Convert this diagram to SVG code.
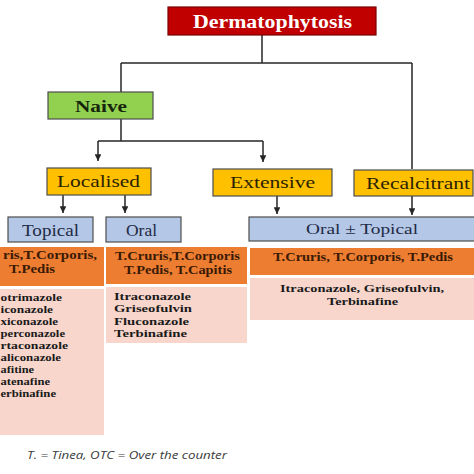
<svg xmlns="http://www.w3.org/2000/svg" width="474" height="474" viewBox="0 0 474 474">
<style>
.t{font-family:"Liberation Serif","Times New Roman",serif}
.b{font-weight:bold}
.c{text-anchor:middle}
.box{stroke:#4d4d4d;stroke-width:1.2}
.con{stroke:#262626;stroke-width:1.5;fill:none}
.list{font-family:"Liberation Serif","Times New Roman",serif;font-weight:bold;font-size:10.6px;fill:#1a1a1a}
.otext{font-family:"Liberation Serif","Times New Roman",serif;font-weight:bold;font-size:11.5px;fill:#3a1a05;text-anchor:middle}
</style>
<defs>
<marker id="ah" viewBox="0 0 10 10" refX="10" refY="5" markerWidth="4.5" markerHeight="4.5" orient="auto" markerUnits="strokeWidth">
<path d="M0,0 L10,5 L0,10 z" fill="#262626"/>
</marker>
</defs>
<rect width="474" height="474" fill="#ffffff"/>

<g id="connectors">
<path class="con" d="M262,35 V63"/>
<path class="con" d="M121,63 H412"/>
<path class="con" d="M121,63 V92"/>
<path class="con" d="M412,63 V169"/>
<path class="con" d="M121,119 V141"/>
<path class="con" d="M98,141 H263"/>
<path class="con" d="M98,141 V161" marker-end="url(#ah)"/>
<path class="con" d="M263,141 V162" marker-end="url(#ah)"/>
<path class="con" d="M63,195 V213" marker-end="url(#ah)"/>
<path class="con" d="M125,195 V213" marker-end="url(#ah)"/>
<path class="con" d="M277,196 V214" marker-end="url(#ah)"/>
<path class="con" d="M412,196 V215" marker-end="url(#ah)"/>
</g>

<g id="dermatophytosis">
<rect x="168" y="7" width="208" height="28" fill="#C00000" stroke="#7a0000" stroke-width="1.2"/>
<text class="t b c" x="272.5" y="27.5" font-size="18" fill="#ffffff" textLength="159" lengthAdjust="spacingAndGlyphs">Dermatophytosis</text>
</g>

<g id="naive">
<rect class="box" x="48" y="92" width="105" height="27" fill="#92D050"/>
<text class="t b c" x="101" y="111.5" font-size="16.5" fill="#15260a" textLength="52" lengthAdjust="spacingAndGlyphs">Naive</text>
</g>

<g id="localised">
<rect class="box" x="47" y="168" width="104" height="27" fill="#FFC000"/>
<text class="t c" x="98.5" y="187" font-size="16" fill="#2b2200" textLength="83" lengthAdjust="spacingAndGlyphs">Localised</text>
</g>

<g id="extensive">
<rect class="box" x="213" y="169" width="119" height="27" fill="#FFC000"/>
<text class="t c" x="272.5" y="188" font-size="16" fill="#2b2200" textLength="85" lengthAdjust="spacingAndGlyphs">Extensive</text>
</g>

<g id="recalcitrant">
<rect class="box" x="354" y="170" width="119" height="26" fill="#FFC000"/>
<text class="t c" x="418" y="188.5" font-size="16" fill="#2b2200" textLength="104" lengthAdjust="spacingAndGlyphs">Recalcitrant</text>
</g>

<g id="topical">
<rect class="box" x="8" y="217" width="85" height="25" fill="#B4C7E7"/>
<text class="t c" x="50.5" y="236" font-size="16" fill="#1f2a44" textLength="57" lengthAdjust="spacingAndGlyphs">Topical</text>
</g>

<g id="oral">
<rect class="box" x="106" y="217" width="75" height="25" fill="#B4C7E7"/>
<text class="t c" x="141.5" y="236" font-size="16" fill="#1f2a44" textLength="31" lengthAdjust="spacingAndGlyphs">Oral</text>
</g>

<g id="oral-topical">
<rect class="box" x="249" y="217" width="226" height="24" fill="#B4C7E7"/>
<text class="t c" x="362" y="234" font-size="14.5" fill="#1f2a44" textLength="112" lengthAdjust="spacingAndGlyphs">Oral ± Topical</text>
</g>

<g id="topical-sites">
<rect x="-2" y="247" width="106" height="39" fill="#ED7D31"/>
<text class="otext" x="50" y="259" textLength="94" lengthAdjust="spacingAndGlyphs">ris,T.Corporis,</text>
<text class="otext" x="32" y="273" textLength="46" lengthAdjust="spacingAndGlyphs">T.Pedis</text>
</g>

<g id="oral-sites">
<rect x="106" y="247" width="141" height="37" fill="#ED7D31"/>
<text class="otext" x="177.5" y="260" textLength="125" lengthAdjust="spacingAndGlyphs">T.Cruris,T.Corporis</text>
<text class="otext" x="178" y="274" textLength="108" lengthAdjust="spacingAndGlyphs">T.Pedis, T.Capitis</text>
</g>

<g id="extensive-sites">
<rect x="250" y="248" width="225" height="27" fill="#ED7D31"/>
<text class="otext" x="363" y="261" textLength="180" lengthAdjust="spacingAndGlyphs">T.Cruris, T.Corporis, T.Pedis</text>
</g>

<g id="topical-drugs">
<rect x="-2" y="289" width="106" height="146" fill="#F8D6CC"/>
<text class="list" x="0.5" y="300.5" textLength="61.5" lengthAdjust="spacingAndGlyphs">otrimazole</text>
<text class="list" x="0.5" y="312.6" textLength="52.5" lengthAdjust="spacingAndGlyphs">iconazole</text>
<text class="list" x="0.5" y="324.7" textLength="57.5" lengthAdjust="spacingAndGlyphs">xiconazole</text>
<text class="list" x="0.5" y="336.8" textLength="64.5" lengthAdjust="spacingAndGlyphs">perconazole</text>
<text class="list" x="0.5" y="348.9" textLength="67.5" lengthAdjust="spacingAndGlyphs">rtaconazole</text>
<text class="list" x="0.5" y="361" textLength="60.5" lengthAdjust="spacingAndGlyphs">aliconazole</text>
<text class="list" x="0.5" y="373.1" textLength="33.5" lengthAdjust="spacingAndGlyphs">afitine</text>
<text class="list" x="0.5" y="385.2" textLength="49.5" lengthAdjust="spacingAndGlyphs">atenafine</text>
<text class="list" x="0.5" y="397.3" textLength="55.5" lengthAdjust="spacingAndGlyphs">erbinafine</text>
</g>

<g id="oral-drugs">
<rect x="106" y="287" width="141" height="56" fill="#F8D6CC"/>
<text class="list" x="114" y="299.5" textLength="77" lengthAdjust="spacingAndGlyphs">Itraconazole</text>
<text class="list" x="114" y="312" textLength="78" lengthAdjust="spacingAndGlyphs">Griseofulvin</text>
<text class="list" x="114" y="324.5" textLength="75" lengthAdjust="spacingAndGlyphs">Fluconazole</text>
<text class="list" x="114" y="337" textLength="73" lengthAdjust="spacingAndGlyphs">Terbinafine</text>
</g>

<g id="extensive-drugs">
<rect x="250" y="278" width="225" height="42" fill="#F8D6CC"/>
<text class="list c" x="362" y="291.5" textLength="164" lengthAdjust="spacingAndGlyphs">Itraconazole, Griseofulvin,</text>
<text class="list c" x="362.5" y="304.5" textLength="71" lengthAdjust="spacingAndGlyphs">Terbinafine</text>
</g>

<g id="footnote">
<text x="27" y="459" font-family="'Open Sans','Liberation Sans',sans-serif" font-style="italic" font-size="11.5" fill="#3a3a3a" textLength="200" lengthAdjust="spacingAndGlyphs">T. = Tinea, OTC = Over the counter</text>
</g>
</svg>
